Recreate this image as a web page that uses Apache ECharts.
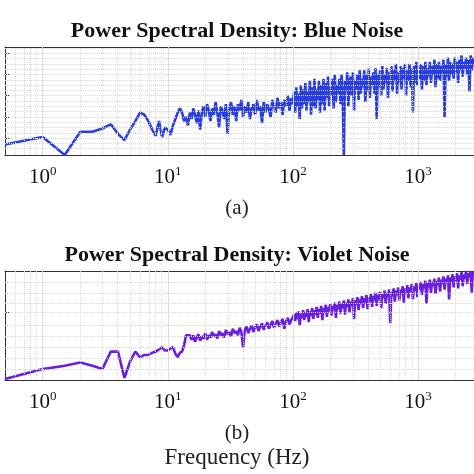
<!DOCTYPE html>
<html><head><meta charset="utf-8">
<script src="https://cdn.jsdelivr.net/npm/echarts@6/dist/echarts.min.js"></script>
<style>html,body{margin:0;padding:0;background:#fff}#c{width:474px;height:474px}</style>
</head><body><div id="c"></div>
<script>
const xTickLabels = [0, 1, 2, 3]; // exponents of 10
const blueLow = [-3,0.5,-8,3,3,4.5,6.5,2,-1,4,8,12,11,8,4,1,8,0.5,5,4,1.5,6,9,12,14,12,8,10,6,12];
const blueMid = [9,14,11,7,13,4,12,15,10,16,13,8,14,11,17,12,5,15,13,9,16,2,14,17,11,15,8,16,13,18,10,15,12,17,9,14,16,11,18,13,15,7,17,12,16,14,10,18,15,12,19,14,17,11,18,15,20,13,19,16];
const blueHigh = [22,12,24,15,21,9,25,14,23,16, 26,13,22,17,27,11,24,15,28,14, 23,18,27,12,25,16,28,13,26,19, 29,15,24,20,28,14,30,17,25,21,
 28,16,30,19,-8,27,22,31,15,26, 29,20,31,13,27,23,30,18,32,21, 28,24,32,17,30,22,33,19,29,25, 31,21,33,9,30,24,32,20,34,23,
 30,26,33,19,31,25,34,22,32,27, 35,21,31,26,34,23,33,28,35,20, 32,27,35,24,33,12,34,26,36,25, 32,28,35,23,34,27,36,25,33,29,
 36,26,34,30,37,24,35,28,36,27, 34,31,37,10,35,29,38,27,36,30, 35,28,38,31,36,26,37,32,39,29, 36,33,38,30,37,22,39,32,38,34];
const violetLow = [1,10,13,16,13,10,26,26,2,17,26,21,23,23,25,26,28,30,27,27,29,30,24,21,25,26,32,41,40,41];
const violetMid = [37,41,35,39,42,36,40,38,43,37,41,39,44,40,42,38,45,41,43,39,46,42,44,40,47,43,45,41,48,44,30,46,49,43,47,50,44,48,51,45,49,52,46,50,53,47,51,54,48,52,55,49,53,56,47,54,57,51,55,58];
const violetHigh = [60,54,62,56,63,50,61,57,64,55, 62,58,65,53,63,59,66,56,64,60, 67,57,65,61,68,55,66,62,69,58, 67,63,70,59,68,64,71,57,69,65,
 72,61,70,66,73,60,71,67,74,62, 72,68,75,56,73,69,76,64,74,70, 77,66,75,71,78,65,76,72,79,67, 77,73,80,68,78,74,81,66,79,75,
 82,70,80,76,83,52,81,77,84,72, 82,78,85,73,83,79,86,71,84,80, 87,75,85,81,88,74,86,82,89,76, 87,83,90,78,88,84,91,70,89,85,
 92,80,90,86,93,79,91,87,94,81, 92,88,95,83,93,89,96,74,94,90, 97,85,95,91,98,84,96,92,99,86, 97,93,100,88,98,94,100,80,99,95];

function freqs(nA, nB, nC){
  const f=[];
  for(let i=0;i<nA;i++) f.push(0.5*(i+1));
  for(let i=1;i<=nB;i++) f.push(15*Math.pow(100/15,i/nB));
  for(let i=1;i<=nC;i++) f.push(100*Math.pow(28,i/nC));
  return f;
}
function build(a,b,c){
  const f=freqs(a.length,b.length,c.length), v=a.concat(b,c);
  return f.map((x,i)=>[Math.log10(x),v[i]]);
}
const xmin=Math.log10(0.5), xmax=Math.log10(2800);
const minorX=[];
for(let n=-1;n<=3;n++) for(let k=1;k<=9;k++){const v=Math.log10(k*Math.pow(10,n)); if(v>xmin&&v<xmax) minorX.push({xAxis:v,lineStyle:{type:k===1?'solid':'dotted',color:k===1?'#dcdcdc':'#d6d6d6'}});}
function hLines(vals){return vals.map(v=>({yAxis:v,lineStyle:{type:'dotted',color:'#d6d6d6'}}));}
const serif='"Liberation Serif","Times New Roman",serif';
function xAx(gi,show){return {type:'value',gridIndex:gi,min:xmin,max:xmax,
  axisLine:{show:true,onZero:false,lineStyle:{color:'#333',width:1}},splitLine:{show:false},
  axisTick:{show:true,inside:true,length:5,customValues:xTickLabels,lineStyle:{color:'#333'}},
  axisLabel:{show:show,customValues:xTickLabels,margin:10,formatter:v=>'{b|10}{s|'+Math.round(v)+'}',
    rich:{b:{fontFamily:serif,fontSize:21,color:'#111'},s:{fontFamily:serif,fontSize:13,color:'#111',verticalAlign:'top',padding:[0,0,12,0]}}}};}
function xTop(gi){return {type:'value',gridIndex:gi,position:'top',min:xmin,max:xmax,axisLine:{show:true,onZero:false,lineStyle:{color:'#333'}},
  axisTick:{show:true,inside:true,length:5,customValues:xTickLabels,lineStyle:{color:'#333'}},axisLabel:{show:false},splitLine:{show:false}};}
function yAx(gi,min,max,ticks){return {type:'value',gridIndex:gi,min:min,max:max,axisLine:{show:true,onZero:false,lineStyle:{color:'#333'}},
  axisTick:{show:true,inside:true,length:5,customValues:ticks,lineStyle:{color:'#333'}},axisLabel:{show:false},splitLine:{show:false}};}
const chart=echarts.init(document.getElementById('c'));
const mlBase={silent:true,symbol:'none',label:{show:false},animation:false};
chart.setOption({
  animation:false,
  title:[
    {text:'Power Spectral Density: Blue Noise',left:'center',top:15,textStyle:{fontFamily:serif,fontSize:22,fontWeight:'bold',color:'#111'}},
    {text:'Power Spectral Density: Violet Noise',left:'center',top:239,textStyle:{fontFamily:serif,fontSize:22,fontWeight:'bold',color:'#111'}}
  ],
  graphic:[
    {type:'text',left:'center',top:198,style:{text:'(a)',font:'21px '+serif,fill:'#222'}},
    {type:'text',left:'center',top:423,style:{text:'(b)',font:'21px '+serif,fill:'#222'}},
    {type:'text',left:'center',top:446,style:{text:'Frequency (Hz)',font:'23px '+serif,fill:'#222'}}
  ],
  grid:[{left:5,right:-3,top:47,height:108},{left:5,right:-3,top:271,height:109}],
  xAxis:[xAx(0,true),xAx(1,true),xTop(0),xTop(1)],
  yAxis:[yAx(0,-8,43,[0,10,20,30,40]),yAx(1,0,100,[62])],
  series:[
    {type:'line',xAxisIndex:0,yAxisIndex:0,data:[],z:0,markLine:Object.assign({},mlBase,{data:minorX.concat(hLines([-5,-2.5,0,2.5,5,7.5,10,12.5,15,17.5,20,22.5,25,27.5,30,32.5,35,37.5,40,42.5]))})},
    {type:'line',xAxisIndex:1,yAxisIndex:1,data:[],z:0,markLine:Object.assign({},mlBase,{data:minorX.concat(hLines([10,20,30,40,50,62,70,80,90]))})},
    {type:'line',xAxisIndex:0,yAxisIndex:0,data:build(blueLow,blueMid,blueHigh),showSymbol:false,clip:true,z:3,lineStyle:{color:'#2a3ee0',width:2.6}},
    {type:'line',xAxisIndex:1,yAxisIndex:1,data:build(violetLow,violetMid,violetHigh),showSymbol:false,clip:true,z:3,lineStyle:{color:'#6a1fe0',width:2.6}}
  ]
});
</script></body></html>
